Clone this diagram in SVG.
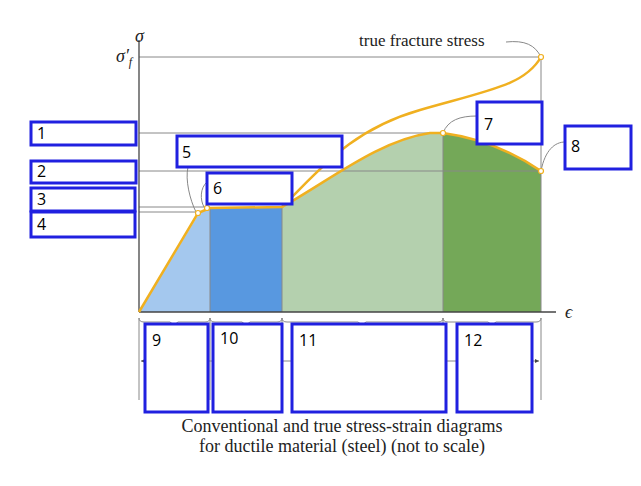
<svg xmlns="http://www.w3.org/2000/svg" width="641" height="486" viewBox="0 0 641 486">
<style>
.box{fill:#fff;stroke:#2020e0;stroke-width:3}
.lbl{font-family:"Open Sans","Liberation Sans",sans-serif;font-size:16px;fill:#000}
.g{stroke:#888;stroke-width:1;fill:none}
.ax{stroke:#444;stroke-width:1.3;fill:none}
.cur{stroke:#f0b020;stroke-width:2.5;fill:none}
.ser{font-family:"Liberation Serif",serif;fill:#222}
.dot{fill:#fff;stroke:#f0b020;stroke-width:1.2}
</style>
<rect width="641" height="486" fill="#fff"/>
<g id="areas">
<polygon points="139,312 200,212 210,208 210,312" fill="#a4c8ee"/>
<rect x="210" y="208" width="72" height="104" fill="#5898e0"/>
<path d="M282,312 L282,207 C330,180 380,140 430,133 L443,133 L443,312 Z" fill="#b4d0ae"/>
<path d="M443,312 L443,133 C480,138 510,150 541,171 L541,312 Z" fill="#74a858"/>
</g>
<g id="connectors">
<line class="g" x1="139" y1="57" x2="541" y2="57"/>
<line class="g" x1="139" y1="133" x2="443" y2="133"/>
<line class="g" x1="139" y1="171" x2="541" y2="171"/>
<line class="g" x1="139" y1="207" x2="210" y2="207"/>
<line class="g" x1="139" y1="212" x2="200" y2="212"/>
<line class="g" x1="541" y1="57" x2="541" y2="312"/>
<line class="g" x1="443" y1="133" x2="443" y2="312" stroke="#555"/>
<line class="g" x1="210" y1="208" x2="210" y2="312"/>
<line class="g" x1="282" y1="207" x2="282" y2="312"/>
<path class="g" d="M506,42 C525,40 535,45 541,57"/>
<path class="g" d="M443,133 C448,120 460,116 477,116"/>
<path class="g" d="M541,171 C545,150 555,142 565,142"/>
<path class="g" d="M188,167 C185,180 190,200 196,212"/>
<path class="g" d="M207,182 C200,188 200,200 204,207"/>
<line class="ax" x1="139" y1="40" x2="139" y2="312"/>
<line class="ax" x1="139" y1="312" x2="556" y2="312"/>
<path class="cur" d="M139,312 L198,213 L210,208 L282,207 C330,180 380,140 430,133 L443,133 C480,138 510,150 541,171"/>
<path class="cur" d="M282,207 C320,170 350,130 420,110 C490,90 525,85 541,57"/>
<circle class="dot" cx="541" cy="57" r="2.5"/>
<circle class="dot" cx="443" cy="133" r="2.5"/>
<circle class="dot" cx="541" cy="171" r="2.5"/>
<circle class="dot" cx="198" cy="213" r="2.5"/>
<circle class="dot" cx="207" cy="208" r="2.5"/>
<path class="g" stroke="#444" d="M139,318 Q139,322 144,322 L170,322 L174,325 L178,322 L205,322 Q210,322 210,318 Q210,322 215,322 L242,322 L246,325 L250,322 L277,322 Q282,322 282,318 Q282,322 287,322 L358,322 L362,325 L366,322 L438,322 Q443,322 443,318 Q443,322 448,322 L488,322 L492,325 L496,322 L536,322 Q541,322 541,318"/>
<line class="g" x1="139" y1="318" x2="139" y2="400"/>
<line class="g" x1="210" y1="318" x2="210" y2="400"/>
<line class="g" x1="282" y1="318" x2="282" y2="400"/>
<line class="g" x1="443" y1="318" x2="443" y2="400"/>
<line class="g" x1="541" y1="318" x2="541" y2="400"/>
<line class="g" x1="141" y1="361" x2="539" y2="361"/>
<path d="M141,361 l4,-2 v4 z M539,361 l-4,-2 v4 z" fill="#444"/>
</g>
<g id="texts">
<text class="ser" x="135" y="42" font-size="18" font-style="italic">σ</text>
<text class="ser" x="116" y="62" font-size="18" font-style="italic">σ′<tspan font-size="12" dy="4">f</tspan></text>
<text class="ser" x="565" y="318" font-size="18" font-style="italic">ϵ</text>
<text class="ser" x="359" y="46" font-size="17">true fracture stress</text>
<text class="ser" x="342" y="432" font-size="18" text-anchor="middle">Conventional and true stress-strain diagrams</text>
<text class="ser" x="342" y="452" font-size="18" text-anchor="middle">for ductile material (steel) (not to scale)</text>
</g>
<g id="n1"><rect class="box" x="31" y="122" width="105" height="23"/><text class="lbl" x="37" y="139">1</text></g>
<g id="n2"><rect class="box" x="31" y="161" width="105" height="22"/><text class="lbl" x="37" y="177">2</text></g>
<g id="n3"><rect class="box" x="31" y="188" width="104" height="23"/><text class="lbl" x="37" y="205">3</text></g>
<g id="n4"><rect class="box" x="31" y="212" width="104" height="25"/><text class="lbl" x="37" y="230">4</text></g>
<g id="n5"><rect class="box" x="177" y="136" width="165" height="31"/><text class="lbl" x="182" y="158">5</text></g>
<g id="n6"><rect class="box" x="207" y="173" width="85" height="31"/><text class="lbl" x="213" y="194">6</text></g>
<g id="n7"><rect class="box" x="477" y="102" width="65" height="42"/><text class="lbl" x="484" y="130">7</text></g>
<g id="n8"><rect class="box" x="565" y="126" width="66" height="43"/><text class="lbl" x="571" y="152">8</text></g>
<g id="n9"><rect class="box" x="145" y="324" width="63" height="88"/><text class="lbl" x="152" y="346">9</text></g>
<g id="n10"><rect class="box" x="213" y="324" width="69" height="88"/><text class="lbl" x="220" y="344">10</text></g>
<g id="n11"><rect class="box" x="292" y="324" width="154" height="88"/><text class="lbl" x="299" y="346">11</text></g>
<g id="n12"><rect class="box" x="457" y="324" width="75" height="88"/><text class="lbl" x="464" y="346">12</text></g>
</svg>
